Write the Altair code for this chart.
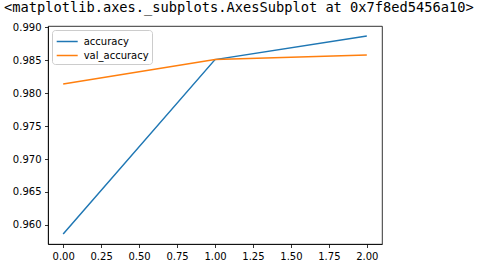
import altair as alt
import pandas as pd

epochs = [0, 1, 2]
accuracy = [0.9586, 0.9851, 0.9887]
val_accuracy = [0.9814, 0.9851, 0.9858]
series_names = ["accuracy", "val_accuracy"]
x_ticks = [0.0, 0.25, 0.5, 0.75, 1.0, 1.25, 1.5, 1.75, 2.0]
y_ticks = [0.960, 0.965, 0.970, 0.975, 0.980, 0.985, 0.990]
title_text = "<matplotlib.axes._subplots.AxesSubplot at 0x7f8ed5456a10>"

rows = []
for name, vals in zip(series_names, [accuracy, val_accuracy]):
    for e, v in zip(epochs, vals):
        rows.append({"epoch": e, "value": v, "series": name})
df = pd.DataFrame(rows)

axis_style = dict(grid=False, domainColor="#000", domainWidth=0.8, tickColor="#000",
                  tickWidth=0.8, tickSize=3.5, labelFont="DejaVu Sans", labelFontSize=10,
                  labelColor="#000", labelPadding=3.5, title=None)

chart = alt.Chart(df).mark_line(strokeWidth=1.5, clip=True).encode(
    x=alt.X("epoch:Q", scale=alt.Scale(domain=[-0.1, 2.1], nice=False, zero=False),
            axis=alt.Axis(values=x_ticks, format=".2f", **axis_style)),
    y=alt.Y("value:Q", scale=alt.Scale(domain=[0.957095, 0.990205], nice=False, zero=False),
            axis=alt.Axis(values=y_ticks, format=".3f", **axis_style)),
    color=alt.Color("series:N",
                    scale=alt.Scale(domain=series_names, range=["#1f77b4", "#ff7f0e"]),
                    legend=alt.Legend(title=None, orient="none", legendX=4, legendY=4,
                                      symbolType="M-1.4,0H1.4", symbolSize=225,
                                      symbolStrokeWidth=1.5, symbolOffset=3.7,
                                      labelFontSize=10, labelFont="DejaVu Sans", labelColor="#000",
                                      strokeColor="#cccccc", fillColor="white", cornerRadius=3,
                                      padding=3, rowPadding=-1, labelOffset=8)),
).properties(
    width=334,
    height=218,
    background="white",
    title=alt.TitleParams(title_text, anchor="start", frame="group", dx=-44,
                          font="DejaVu Sans Mono", fontSize=13.7, fontWeight="normal",
                          color="#000", offset=8),
    padding={"left": 48, "top": 26, "right": 120, "bottom": 32},
    autosize=alt.AutoSizeParams(type="none"),
).configure_view(
    stroke="#000", strokeWidth=0.8
)

chart.save("out.html", embed_options={"renderer": "svg", "actions": False})
